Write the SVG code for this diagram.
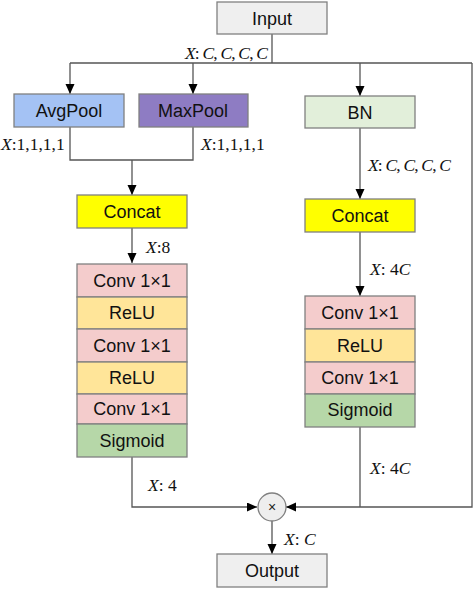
<svg xmlns="http://www.w3.org/2000/svg" width="474" height="590" viewBox="0 0 474 590">
<defs>
<style>
.box{stroke:#808080;stroke-width:1.3}
.lbl{font-family:"Liberation Sans",Arial,sans-serif;font-size:18px;fill:#111;text-anchor:middle}
.m{font-family:"Liberation Serif","DejaVu Serif",serif;font-size:17.5px;fill:#111}
.i{font-style:italic}
.c{fill:none;stroke:#555;stroke-width:1.3}
</style>
<marker id="ah" markerWidth="10" markerHeight="10" refX="10" refY="4.5" orient="auto" markerUnits="userSpaceOnUse">
<path d="M0,0 L10,4.5 L0,9 z" fill="#000"/>
</marker>
</defs>
<rect width="474" height="590" fill="#fff"/>

<g id="connectors">
<path class="c" d="M272,34 V63"/>
<path class="c" d="M70,63 H472"/>
<path class="c" d="M70,63 V94" marker-end="url(#ah)"/>
<path class="c" d="M193,63 V94" marker-end="url(#ah)"/>
<path class="c" d="M360,63 V96" marker-end="url(#ah)"/>
<path class="c" d="M70,127 V160 H193 V127"/>
<path class="c" d="M132,160 V195" marker-end="url(#ah)"/>
<path class="c" d="M360,128 V199" marker-end="url(#ah)"/>
<path class="c" d="M132,228 V263" marker-end="url(#ah)"/>
<path class="c" d="M360,232 V296" marker-end="url(#ah)"/>
<path class="c" d="M132,457 V507 H257" marker-end="url(#ah)"/>
<path class="c" d="M360,427 V507"/>
<path class="c" d="M472,63 V507 H286" marker-end="url(#ah)"/>
<path class="c" d="M272,521 V554" marker-end="url(#ah)"/>
</g>

<g id="input"><rect class="box" x="217" y="2" width="110" height="32" fill="#efefef"/><text class="lbl" x="272" y="25">Input</text></g>
<g id="avgpool"><rect class="box" x="14" y="94" width="110" height="33" fill="#a4c2f4"/><text class="lbl" x="69" y="117">AvgPool</text></g>
<g id="maxpool"><rect class="box" x="139" y="94" width="109" height="33" fill="#8e7cc3"/><text class="lbl" x="193" y="117">MaxPool</text></g>
<g id="bn"><rect class="box" x="305" y="96" width="110" height="32" fill="#e2efda"/><text class="lbl" x="360" y="119">BN</text></g>
<g id="concat-left"><rect class="box" x="77" y="195" width="110" height="33" fill="#ffff00"/><text class="lbl" x="132" y="218">Concat</text></g>
<g id="concat-right"><rect class="box" x="305" y="199" width="110" height="33" fill="#ffff00"/><text class="lbl" x="360" y="222">Concat</text></g>

<g id="left-stack">
<rect class="box" x="77" y="264" width="110" height="33" fill="#f4cccc"/><text class="lbl" x="132" y="287">Conv 1×1</text>
<rect class="box" x="77" y="297" width="110" height="32" fill="#ffe599"/><text class="lbl" x="132" y="319">ReLU</text>
<rect class="box" x="77" y="329" width="110" height="33" fill="#f4cccc"/><text class="lbl" x="132" y="352">Conv 1×1</text>
<rect class="box" x="77" y="362" width="110" height="32" fill="#ffe599"/><text class="lbl" x="132" y="384">ReLU</text>
<rect class="box" x="77" y="394" width="110" height="30" fill="#f4cccc"/><text class="lbl" x="132" y="415">Conv 1×1</text>
<rect class="box" x="77" y="424" width="110" height="33" fill="#b6d7a8"/><text class="lbl" x="132" y="447">Sigmoid</text>
</g>

<g id="right-stack">
<rect class="box" x="305" y="296" width="110" height="33" fill="#f4cccc"/><text class="lbl" x="360" y="319">Conv 1×1</text>
<rect class="box" x="305" y="329" width="110" height="33" fill="#ffe599"/><text class="lbl" x="360" y="352">ReLU</text>
<rect class="box" x="305" y="362" width="110" height="32" fill="#f4cccc"/><text class="lbl" x="360" y="384">Conv 1×1</text>
<rect class="box" x="305" y="394" width="110" height="33" fill="#b6d7a8"/><text class="lbl" x="360" y="416">Sigmoid</text>
</g>

<g id="multiply"><circle cx="272" cy="507" r="14" fill="#eeeeee" stroke="#808080" stroke-width="1.3"/><text x="272" y="512" font-family="Liberation Sans,Arial,sans-serif" font-size="14" text-anchor="middle" fill="#222">×</text></g>
<g id="output"><rect class="box" x="217" y="554" width="110" height="33" fill="#efefef"/><text class="lbl" x="272" y="577">Output</text></g>

<g id="labels">
<text class="m" x="185" y="59" textLength="83" lengthAdjust="spacing"><tspan class="i">X</tspan>: <tspan class="i">C</tspan>, <tspan class="i">C</tspan>, <tspan class="i">C</tspan>, <tspan class="i">C</tspan></text>
<text class="m" x="1" y="150"><tspan class="i">X</tspan>:1,1,1,1</text>
<text class="m" x="201" y="150"><tspan class="i">X</tspan>:1,1,1,1</text>
<text class="m" x="368" y="171" textLength="83" lengthAdjust="spacing"><tspan class="i">X</tspan>: <tspan class="i">C</tspan>, <tspan class="i">C</tspan>, <tspan class="i">C</tspan>, <tspan class="i">C</tspan></text>
<text class="m" x="146" y="253"><tspan class="i">X</tspan>:8</text>
<text class="m" x="370" y="275"><tspan class="i">X</tspan>: 4<tspan class="i">C</tspan></text>
<text class="m" x="148" y="491"><tspan class="i">X</tspan>: 4</text>
<text class="m" x="370" y="474"><tspan class="i">X</tspan>: 4<tspan class="i">C</tspan></text>
<text class="m" x="284" y="545"><tspan class="i">X</tspan>: <tspan class="i">C</tspan></text>
</g>
</svg>
